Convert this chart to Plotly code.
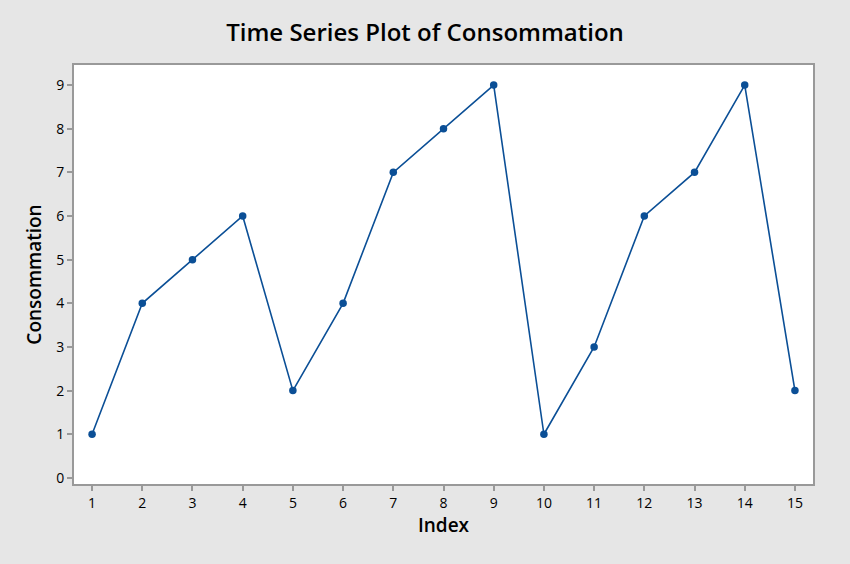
import plotly.graph_objects as go

index = list(range(1, 16))
consommation = [1, 4, 5, 6, 2, 4, 7, 8, 9, 1, 3, 6, 7, 9, 2]
x_ticks = list(range(1, 16))
y_ticks = list(range(0, 10))

FONT = "Open Sans"
GREY = "#999999"

fig = go.Figure(
    go.Scatter(
        x=index,
        y=consommation,
        mode="lines+markers",
        line=dict(color="#0b4f96", width=1.6),
        marker=dict(color="#0b4f96", size=7.5, symbol="circle"),
    )
)

fig.update_layout(
    width=850,
    height=564,
    paper_bgcolor="#e6e6e6",
    plot_bgcolor="white",
    margin=dict(l=74, r=37, t=65, b=80),
    showlegend=False,
    font=dict(family=FONT, color="black", size=14),
    title=dict(
        text="Time Series Plot of Consommation",
        x=0.5,
        xanchor="center",
        y=1 - 33 / 564,
        yanchor="middle",
        font=dict(size=24, family=FONT, color="black", weight=600),
    ),
)

axis_style = dict(
    showgrid=False,
    zeroline=False,
    showline=True,
    linecolor=GREY,
    linewidth=2,
    mirror=True,
    ticks="outside",
    tickcolor=GREY,
    ticklen=5,
    tickwidth=2,
    tickfont=dict(size=14, family=FONT),
)

fig.update_xaxes(
    **axis_style,
    range=[0.64, 15.36],
    tickvals=x_ticks,
    title=dict(text="Index", font=dict(size=19, family=FONT, weight=600), standoff=8),
)
fig.update_yaxes(
    **axis_style,
    range=[-0.14, 9.46],
    tickvals=y_ticks,
    title=dict(text="Consommation", font=dict(size=19, family=FONT, weight=600), standoff=10),
)

fig.write_html(
    "out.html",
    config={"displayModeBar": False},
    post_script="document.body.style.margin='0';",
)
